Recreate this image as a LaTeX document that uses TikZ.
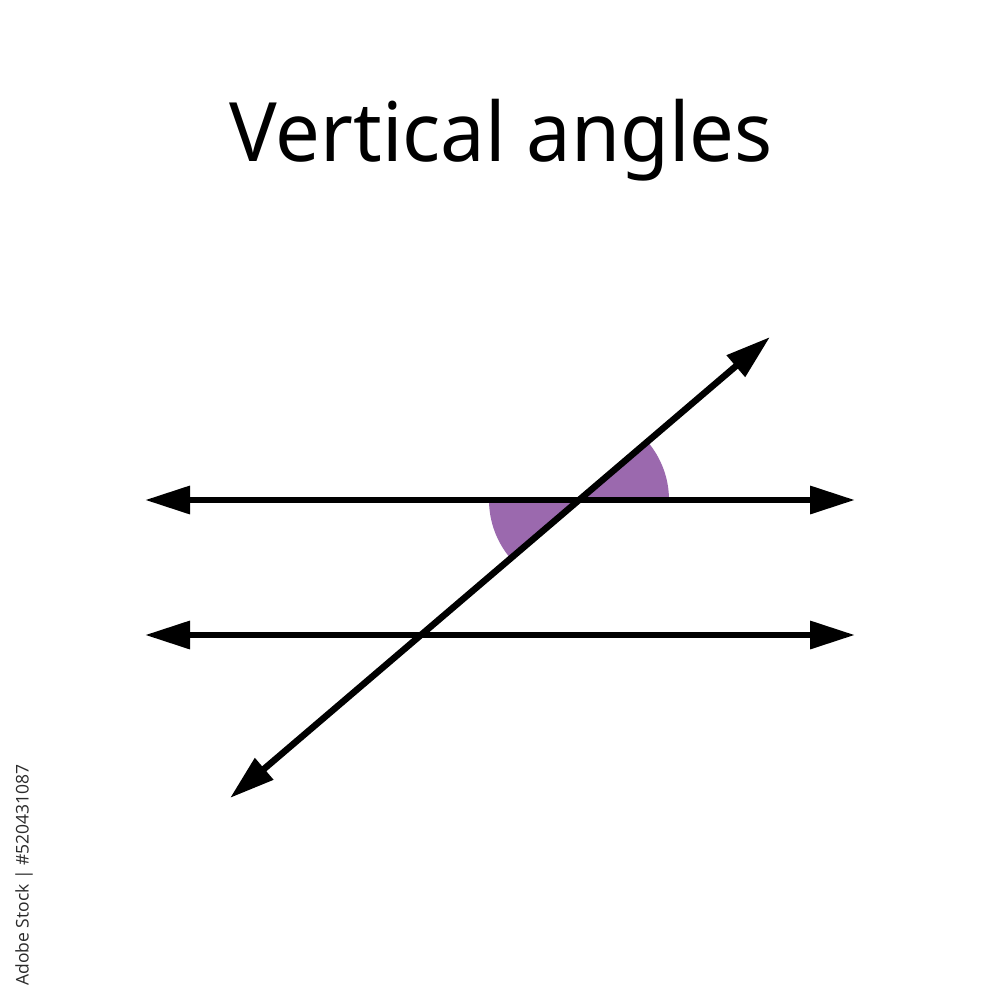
\documentclass[tikz,border=0pt]{standalone}
\usepackage{fontspec}
\setmainfont{Noto Sans}
\newfontfamily\wmfont{Open Sans}
\usetikzlibrary{arrows.meta}
\definecolor{anglepurple}{HTML}{9B69AE}
\definecolor{wmgray}{HTML}{2A2A2A}
\tikzset{
  line/.style={line width=6.5pt, black, {Triangle[length=45pt,width=27pt]}-{Triangle[length=45pt,width=27pt]}},
  sector/.style={fill=anglepurple, draw=none},
}
\begin{document}
\begin{tikzpicture}[x=1pt,y=-1pt]
\useasboundingbox (0,0) rectangle (1000,1000);
\fill[white] (0,0) rectangle (1000,1000);
% title
\node[anchor=base, inner sep=0pt, xscale=0.97, font=\fontsize{82}{96}\selectfont] (title) at (501,162) {Vertical angles};
% intersection points
\coordinate (P) at (579,500);
\coordinate (Q) at (421,635);
% angle sectors
\fill[sector] (P) -- ++(90,0) arc[start angle=0, end angle=-40.5, radius=90] -- cycle;
\fill[sector] (P) -- ++(-90,0) arc[start angle=180, end angle=139.5, radius=90] -- cycle;
% lines
\coordinate (L1a) at (145,500);
\coordinate (L1b) at (855,500);
\coordinate (L2a) at (145,635);
\coordinate (L2b) at (855,635);
\coordinate (Ta) at (230,798);
\coordinate (Tb) at (770,337);
\draw[line] (L1a) -- (L1b);
\draw[line] (L2a) -- (L2b);
\draw[line] (Ta) -- (Tb);
% watermark label
\node[rotate=90, anchor=center, inner sep=0pt, text=wmgray, font=\wmfont\fontsize{17.5}{21}\selectfont] (wm) at (24,875) {Adobe Stock | \#520431087};
\end{tikzpicture}
\end{document}
